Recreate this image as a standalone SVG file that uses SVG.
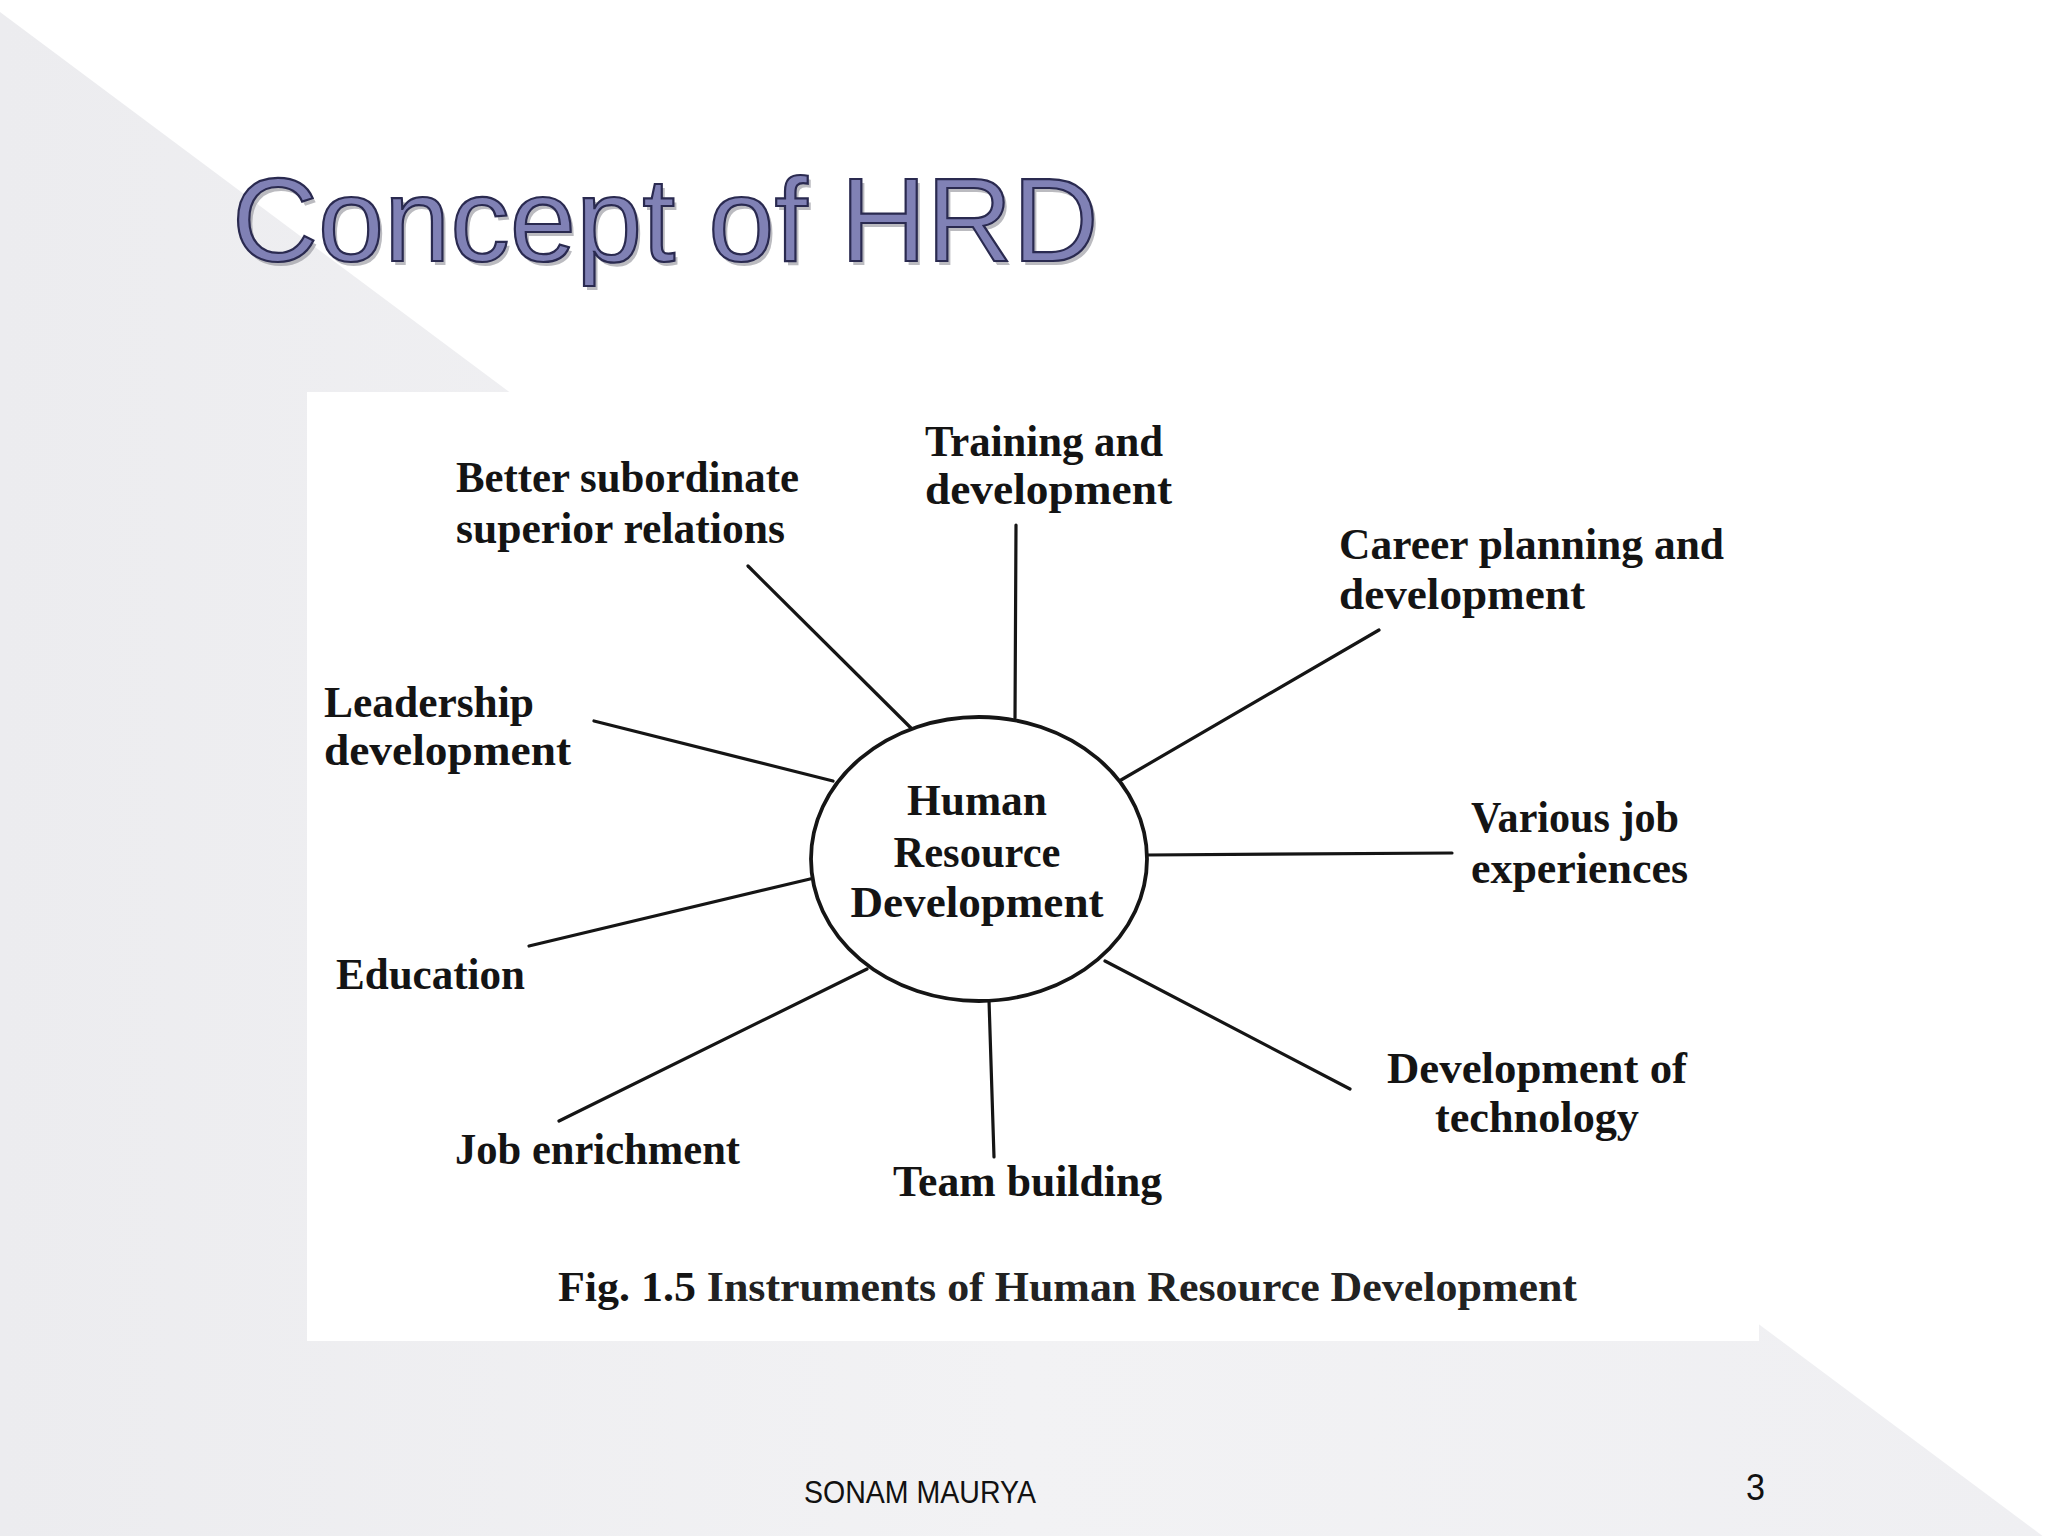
<svg xmlns="http://www.w3.org/2000/svg" width="2048" height="1536" viewBox="0 0 2048 1536">
  <defs>
    <linearGradient id="bgGrey" x1="0" y1="0" x2="1" y2="0">
      <stop offset="0" stop-color="#ececef"/>
      <stop offset="0.5" stop-color="#f2f2f4"/>
      <stop offset="1" stop-color="#efeff2"/>
    </linearGradient>
    <style>
      .lbl { font-family: "Liberation Serif", "Times New Roman", serif; font-weight: bold; font-size: 44px; fill: #141414; }
      .cap { font-family: "Liberation Serif", "Times New Roman", serif; font-size: 42px; fill: #141414; }
      .conn line { stroke: #151515; stroke-width: 3.2; stroke-linecap: round; }
      .title { font-family: "Liberation Sans", Arial, sans-serif; font-size: 119px; }
      .foot { font-family: "Liberation Sans", Arial, sans-serif; fill: #111; }
    </style>
  </defs>

  <!-- slide background -->
  <rect x="0" y="0" width="2048" height="1536" fill="#ffffff"/>
  <polygon points="0,12 2048,1540 0,1536" fill="url(#bgGrey)"/>

  <!-- title -->
  <g id="title">
    <text class="title" x="235" y="265" fill="#8e8e96" fill-opacity="0.6">Concept of HRD</text>
    <text class="title" x="232" y="261" fill="#8081b5" stroke="#2a2a50" stroke-width="2.2">Concept of HRD</text>
  </g>

  <!-- figure panel -->
  <rect id="panel" x="307" y="392" width="1452" height="949" fill="#ffffff"/>

  <!-- connectors -->
  <g id="connectors" class="conn">
    <line x1="748" y1="566" x2="914" y2="731"/>
    <line x1="1016" y1="525" x2="1015" y2="718"/>
    <line x1="1379" y1="630" x2="1121" y2="780"/>
    <line x1="1147" y1="855" x2="1452" y2="853"/>
    <line x1="1105" y1="961" x2="1350" y2="1089"/>
    <line x1="989" y1="1000" x2="994" y2="1157"/>
    <line x1="867" y1="969" x2="559" y2="1121"/>
    <line x1="810" y1="879" x2="529" y2="946"/>
    <line x1="594" y1="721" x2="833" y2="781"/>
  </g>

  <!-- center node -->
  <g id="node-hrd">
    <ellipse cx="979" cy="859" rx="168" ry="142" fill="#ffffff" stroke="#151515" stroke-width="3.8"/>
    <text class="lbl" x="977" y="815" text-anchor="middle" textLength="140" lengthAdjust="spacingAndGlyphs">Human</text>
    <text class="lbl" x="977" y="867" text-anchor="middle" textLength="167" lengthAdjust="spacingAndGlyphs">Resource</text>
    <text class="lbl" x="977" y="917" text-anchor="middle" textLength="253" lengthAdjust="spacingAndGlyphs">Development</text>
  </g>

  <g id="node-better-relations">
    <text class="lbl" x="456" y="492" textLength="343" lengthAdjust="spacingAndGlyphs">Better subordinate</text>
    <text class="lbl" x="456" y="543" textLength="329" lengthAdjust="spacingAndGlyphs">superior relations</text>
  </g>

  <g id="node-training">
    <text class="lbl" x="925" y="456" textLength="238" lengthAdjust="spacingAndGlyphs">Training and</text>
    <text class="lbl" x="925" y="504" textLength="247" lengthAdjust="spacingAndGlyphs">development</text>
  </g>

  <g id="node-career">
    <text class="lbl" x="1339" y="559" textLength="385" lengthAdjust="spacingAndGlyphs">Career planning and</text>
    <text class="lbl" x="1339" y="609" textLength="246" lengthAdjust="spacingAndGlyphs">development</text>
  </g>

  <g id="node-leadership">
    <text class="lbl" x="324" y="717" textLength="210" lengthAdjust="spacingAndGlyphs">Leadership</text>
    <text class="lbl" x="324" y="765" textLength="247" lengthAdjust="spacingAndGlyphs">development</text>
  </g>

  <g id="node-various-job">
    <text class="lbl" x="1471" y="832" textLength="208" lengthAdjust="spacingAndGlyphs">Various job</text>
    <text class="lbl" x="1471" y="883" textLength="217" lengthAdjust="spacingAndGlyphs">experiences</text>
  </g>

  <g id="node-education">
    <text class="lbl" x="336" y="989" textLength="189" lengthAdjust="spacingAndGlyphs">Education</text>
  </g>

  <g id="node-job-enrichment">
    <text class="lbl" x="455" y="1164" textLength="285" lengthAdjust="spacingAndGlyphs">Job enrichment</text>
  </g>

  <g id="node-team-building">
    <text class="lbl" x="893" y="1196" textLength="269" lengthAdjust="spacingAndGlyphs">Team building</text>
  </g>

  <g id="node-technology">
    <text class="lbl" x="1387" y="1083" textLength="300" lengthAdjust="spacingAndGlyphs">Development of</text>
    <text class="lbl" x="1537" y="1132" text-anchor="middle" textLength="204" lengthAdjust="spacingAndGlyphs">technology</text>
  </g>

  <!-- caption -->
  <g id="caption">
    <text class="cap" x="558" y="1301" textLength="1019" lengthAdjust="spacingAndGlyphs"><tspan font-weight="bold">Fig. 1.5</tspan><tspan font-weight="bold" fill="#222"> Instruments of Human Resource Development</tspan></text>
  </g>

  <!-- footer -->
  <g id="footer">
    <text class="foot" x="804" y="1503" font-size="31" textLength="232" lengthAdjust="spacingAndGlyphs">SONAM MAURYA</text>
    <text class="foot" x="1746" y="1500" font-size="37" textLength="19" lengthAdjust="spacingAndGlyphs">3</text>
  </g>
</svg>
